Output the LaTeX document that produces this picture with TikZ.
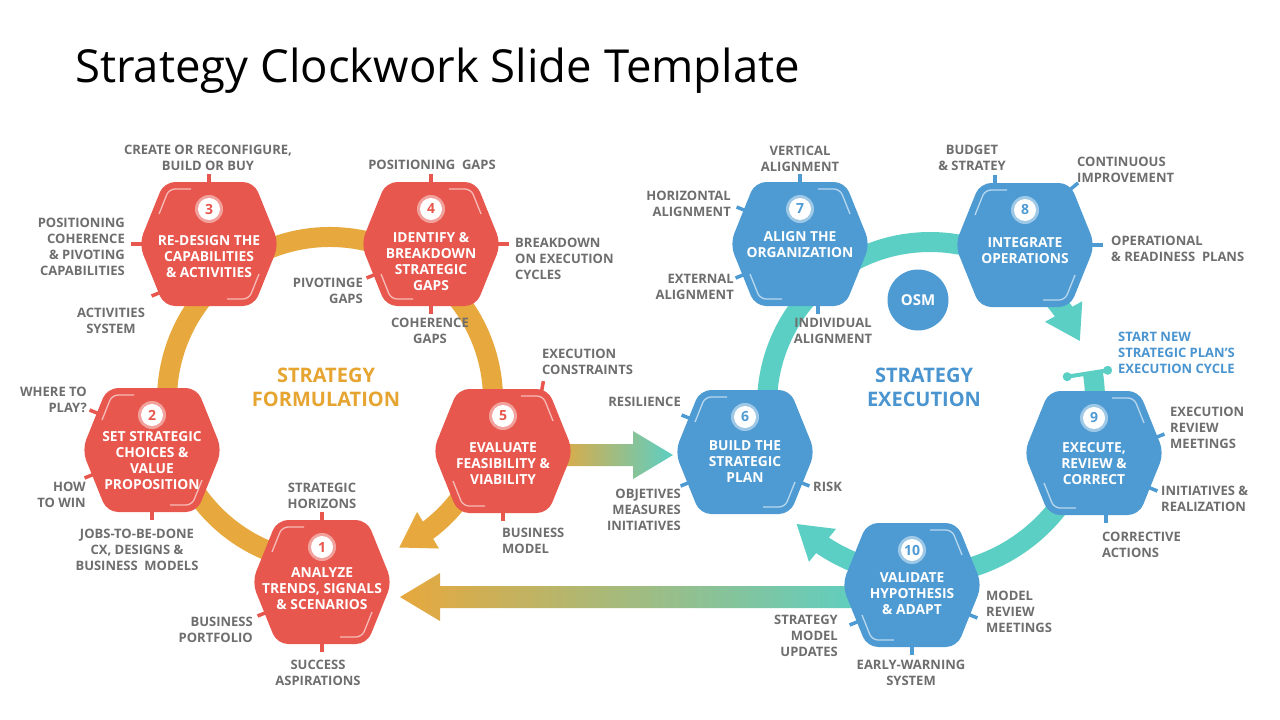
\documentclass[tikz,border=0pt]{standalone}
\usepackage{fontspec}
\setmainfont{Open Sans}
\usetikzlibrary{arrows.meta,bending,calc}

\definecolor{redhex}{HTML}{E8574E}
\definecolor{bluehex}{HTML}{4E9BD3}
\definecolor{ringorange}{HTML}{E7A83D}
\definecolor{ringteal}{HTML}{5BCFC4}
\definecolor{labelgray}{HTML}{6E6E6E}
\definecolor{formtext}{HTML}{E6A431}
\definecolor{exectext}{HTML}{4A95D0}

\tikzset{
  hexbody/.style={rounded corners=11pt},
  ring/.style={line width=20pt},
  ringtip/.style={-{Triangle[width=40pt,length=34pt]}},
  pin/.style={line width=3.5pt},
  shine/.style={draw=white, draw opacity=.6, line width=1.3pt, rounded corners=6pt},
  badge/.style={circle, fill=white, minimum size=22pt, inner sep=0pt, font=\bfseries\fontsize{14}{14}\selectfont},
  hextext/.style={text=white, align=center, anchor=north, inner sep=0pt, font=\bfseries\fontsize{13.8}{16}\selectfont},
  lbl/.style={text=labelgray, inner sep=0pt, font=\bfseries\fontsize{13}{16}\selectfont},
  lblL/.style={lbl, align=left, anchor=north west},
  lblR/.style={lbl, align=right, anchor=north east},
  lblC/.style={lbl, align=center, anchor=north},
  heading/.style={align=center, inner sep=0pt, font=\bfseries\fontsize{20}{24}\selectfont}
}

\begin{document}
\begin{tikzpicture}[x=1pt,y=-1pt]
  \fill[white] (0,0) rectangle (1280,720);
  \useasboundingbox (0,0) rectangle (1280,720);
  \node[anchor=base west, inner sep=0pt, font=\fontsize{45.5}{54}\selectfont] (title) at (75,82) {Strategy Clockwork Slide Template};

  \foreach \n/\x/\y in {1/322/582,2/152/450,3/209/244,4/431/244,5/503/451,6/745/452,7/800/244,8/1025/245,9/1094/453,10/912/585}
    \coordinate (h\n) at (\x,\y);
  \coordinate (lc) at (330,400);
  \coordinate (rc) at (930,405);
  \coordinate (rb) at (920,400);

  \draw[ring, ringtip, ringorange] (lc) ++(100:163) arc (100:425:163);
  \draw[ring, ringtip, ringteal] (rc) ++(175:163) arc (175:337:163);
  \draw[ring, ringtip, ringteal] (rb) ++(351:175) arc (351:495:175);
  \draw[line width=4pt, ringteal] ($(rb)+(351:149)$) coordinate (tb1) -- ($(rb)+(351:190)$) coordinate (tb2);
  \fill[ringteal] (tb1) circle (4.5) (tb2) circle (4.5);

  \coordinate (s5) at ($(h5)+(50,4)$);
  \coordinate (e6) at ($(h6)+(-72,3)$);
  \shade[left color=ringorange, right color=ringteal] (s5) ++(0,-11) -- ($(e6)+(-40,-11)$) -- ($(e6)+(-40,-24)$) -- (e6)
    -- ($(e6)+(-40,24)$) -- ($(e6)+(-40,11)$) -- ($(s5)+(0,11)$) -- cycle;
  \coordinate (s10) at ($(h10)+(-40,12)$);
  \coordinate (e1) at ($(h1)+(78,15)$);
  \shade[left color=ringorange, right color=ringteal] (s10) ++(0,-11) -- ($(e1)+(40,-11)$) -- ($(e1)+(40,-24)$) -- (e1)
    -- ($(e1)+(40,24)$) -- ($(e1)+(40,11)$) -- ($(s10)+(0,11)$) -- cycle;

  \foreach \n/\col/\sg/\dy/\txt in {
    1/redhex/1/-10/{ANALYZE\\TRENDS, SIGNALS\\\& SCENARIOS},
    2/redhex/1/-14/{SET STRATEGIC\\CHOICES \&\\VALUE\\PROPOSITION},
    3/redhex/1/-4/{RE-DESIGN THE\\CAPABILITIES\\\& ACTIVITIES},
    4/redhex/-1/-7/{IDENTIFY \&\\BREAKDOWN\\STRATEGIC\\GAPS},
    5/redhex/-1/-4/{EVALUATE\\FEASIBILITY \&\\VIABILITY},
    6/bluehex/1/-7/{BUILD THE\\STRATEGIC\\PLAN},
    7/bluehex/-1/-8/{ALIGN THE\\ORGANIZATION},
    8/bluehex/1/-3/{INTEGRATE\\OPERATIONS},
    9/bluehex/-1/-6/{EXECUTE,\\REVIEW \&\\CORRECT},
    10/bluehex/-1/-8/{VALIDATE\\HYPOTHESIS\\\& ADAPT}}
  {
    \fill[hexbody, \col] (h\n) +(-70,0) -- +(-45,-62) -- +(45,-62) -- +(70,0) -- +(45,62) -- +(-45,62) -- cycle;
    \draw[shine] ($(h\n)+({-50*(\sg)},-30)$) -- ($(h\n)+({-40*(\sg)},-55)$) -- ($(h\n)+({-18*(\sg)},-55)$);
    \draw[shine] ($(h\n)+({50*(\sg)},30)$) -- ($(h\n)+({40*(\sg)},55)$) -- ($(h\n)+({18*(\sg)},55)$);
    \fill[white, opacity=.45] ($(h\n)+(0,-35)$) circle (14);
    \node[badge, text=\col] (n\n) at ($(h\n)+(0,-35)$) {\n};
    \node[hextext] (t\n) at ($(h\n)+(0,\dy-5)$) {\txt};
  }

  \foreach \h/\px/\py/\a/\col in {
    3/0/-62/90/redhex, 3/-70/0/180/redhex, 3/-50/49/202/redhex,
    4/0/-62/90/redhex, 4/70/0/0/redhex, 4/-57/31/202/redhex, 4/0/62/270/redhex,
    2/-55/-37/158/redhex, 2/-60/25/202/redhex, 2/0/62/270/redhex,
    1/0/-62/90/redhex, 1/-57/31/202/redhex, 1/0/62/270/redhex,
    5/39/-62/80/redhex, 5/0/62/270/redhex,
    6/-56/-34/158/bluehex, 6/-57/31/202/bluehex, 6/57/31/338/bluehex,
    7/0/-62/90/bluehex, 7/-56/-34/158/bluehex, 7/-57/31/202/bluehex, 7/18/62/270/bluehex,
    8/-30/-62/90/bluehex, 8/47/-57/40/bluehex, 8/70/0/0/bluehex,
    9/63/-16/22/bluehex, 9/56/35/338/bluehex, 9/12/62/270/bluehex,
    10/-55/37/202/bluehex, 10/58/30/338/bluehex, 10/0/62/270/bluehex}
    \draw[pin, \col] (h\h) ++(\px,\py) ++(\a:-3pt) -- ++(\a:11pt);

  \foreach \nm/\st/\x/\y/\txt in {
    l3a/lblC/208/150/{CREATE OR RECONFIGURE,\\BUILD OR BUY},
    l3b/lblR/125/223/{POSITIONING\\COHERENCE\\\& PIVOTING\\CAPABILITIES},
    l3c/lblC/111/313/{ACTIVITIES\\SYSTEM},
    l4a/lblC/432/165/{POSITIONING\ \ GAPS},
    l4b/lblL/515/243/{BREAKDOWN\\ON EXECUTION\\CYCLES},
    l4c/lblR/363/283/{PIVOTINGE\\GAPS},
    l4d/lblC/430/323/{COHERENCE\\GAPS},
    l2a/lblR/87/392/{WHERE TO\\PLAY?},
    l2b/lblR/86/487/{HOW\\TO WIN},
    l2c/lblC/137/534/{JOBS-TO-BE-DONE\\CX, DESIGNS \&\\BUSINESS\ \ MODELS},
    l1a/lblC/322/488/{STRATEGIC\\HORIZONS},
    l1b/lblR/253/622/{BUSINESS\\PORTFOLIO},
    l1c/lblC/318/665/{SUCCESS\\ASPIRATIONS},
    l5a/lblL/542/354/{EXECUTION\\CONSTRAINTS},
    l5b/lblL/502/533/{BUSINESS\\MODEL},
    l6a/lblR/681/402/{RESILIENCE},
    l6b/lblR/681/494/{OBJETIVES\\MEASURES\\INITIATIVES},
    l6c/lblL/813/487/{RISK},
    l7a/lblC/800/151/{VERTICAL\\ALIGNMENT},
    l7b/lblR/731/196/{HORIZONTAL\\ALIGNMENT},
    l7c/lblR/734/279/{EXTERNAL\\ALIGNMENT},
    l7d/lblC/833/323/{INDIVIDUAL\\ALIGNMENT},
    l8a/lblC/972/150/{BUDGET\\\& STRATEY},
    l8b/lblL/1077/162/{CONTINUOUS\\IMPROVEMENT},
    l8c/lblL/1111/241/{OPERATIONAL\\\& READINESS\ \ PLANS},
    l9a/lblL/1170/412/{EXECUTION\\REVIEW\\MEETINGS},
    l9b/lblL/1161/491/{INITIATIVES \&\\REALIZATION},
    l9c/lblL/1102/537/{CORRECTIVE\\ACTIONS},
    l10a/lblL/986/596/{MODEL\\REVIEW\\MEETINGS},
    l10b/lblR/838/620/{STRATEGY\\MODEL\\UPDATES},
    l10c/lblC/911/665/{EARLY-WARNING\\SYSTEM}}
    \node[\st] (\nm) at (\x,\y-5) {\txt};

  \node[lblL, text=exectext] (startnew) at (1118,332) {START NEW\\STRATEGIC PLAN’S\\EXECUTION CYCLE};
  \node[circle, fill=bluehex, minimum size=61pt, text=white, font=\bfseries\fontsize{15}{15}\selectfont] (osm) at (918,300) {OSM};
  \node[heading, text=formtext] (formulation) at (326,387) {STRATEGY\\FORMULATION};
  \node[heading, text=exectext] (execution) at (924,387) {STRATEGY\\EXECUTION};
\end{tikzpicture}
\end{document}
